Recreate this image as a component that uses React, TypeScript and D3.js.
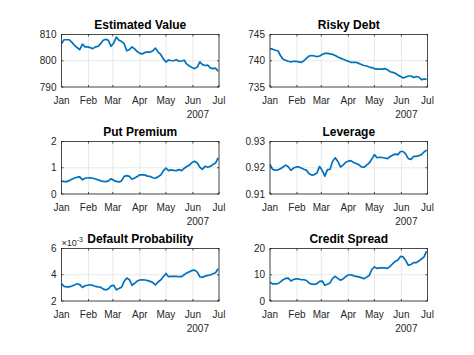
import React from "react";
import * as d3 from "d3";

// day offsets from 2007-01-01 for each sample
const dayOffsets = [0, 3, 6, 9, 12, 15, 18, 21, 24, 27, 30, 33, 36, 39, 42, 45, 48, 51, 54, 57, 60, 63, 66, 69, 72, 75, 78, 81, 84, 87, 90, 93, 96, 99, 102, 105, 108, 111, 114, 117, 120, 123, 126, 129, 132, 135, 138, 141, 144, 147, 150, 153, 156, 159, 162, 165, 168, 171, 174, 177, 180];

const estimatedValue = [806.6, 808, 808, 808, 807, 805.8, 805, 804.2, 806.3, 805.3, 805.3, 805, 804.6, 805.3, 805.5, 806.5, 807.8, 808.2, 807.7, 805.5, 806.8, 809, 807.8, 807.3, 806.5, 803.8, 804.2, 805.3, 804.5, 803.5, 802.8, 802.6, 803.2, 803.3, 803.3, 803.8, 804.8, 803.3, 802.4, 800.7, 799.5, 800.3, 800.1, 800, 800.4, 799.8, 799.9, 800.2, 798.7, 798, 797.4, 797, 797.6, 799.6, 798.5, 798.2, 798.3, 797.3, 797, 797.2, 796];

const riskyDebt = [742.3, 742.2, 742, 741.9, 741, 740.3, 740.1, 739.9, 739.8, 739.9, 739.9, 739.8, 739.7, 740, 740.5, 740.9, 741, 740.9, 740.8, 740.9, 741.2, 741.4, 741.4, 741.3, 741.2, 741, 740.7, 740.5, 740.3, 740.1, 739.9, 739.7, 739.7, 739.7, 739.5, 739.3, 739.1, 739, 738.8, 738.7, 738.5, 738.4, 738.4, 738.4, 738.5, 738.3, 737.9, 737.8, 737.6, 737.3, 737, 736.7, 736.9, 737.1, 737.1, 736.8, 737, 736.9, 736.4, 736.5, 736.5];

const putPremium = [0.5, 0.47, 0.47, 0.51, 0.56, 0.61, 0.64, 0.65, 0.54, 0.6, 0.61, 0.62, 0.6, 0.57, 0.54, 0.5, 0.48, 0.47, 0.5, 0.58, 0.52, 0.48, 0.46, 0.5, 0.67, 0.7, 0.67, 0.56, 0.61, 0.67, 0.73, 0.73, 0.72, 0.68, 0.67, 0.62, 0.6, 0.66, 0.72, 0.88, 0.99, 0.89, 0.92, 0.9, 0.89, 0.93, 0.89, 0.98, 1.05, 1.1, 1.2, 1.25, 1.18, 1.02, 0.94, 1.06, 1.02, 1.05, 1.12, 1.18, 1.38];

const leverage = [0.9213, 0.9194, 0.9191, 0.9192, 0.9196, 0.9203, 0.921, 0.9204, 0.919, 0.9199, 0.9203, 0.9203, 0.9199, 0.9194, 0.919, 0.9177, 0.9172, 0.9174, 0.918, 0.9205, 0.919, 0.9168, 0.9193, 0.9194, 0.9225, 0.9238, 0.9224, 0.9203, 0.921, 0.9221, 0.9225, 0.9227, 0.922, 0.9216, 0.9212, 0.9203, 0.9202, 0.921, 0.9218, 0.9233, 0.925, 0.9238, 0.924, 0.9239, 0.9237, 0.9235, 0.9243, 0.9248, 0.9252, 0.925, 0.9262, 0.9262, 0.9252, 0.9235, 0.9232, 0.9243, 0.9243, 0.9246, 0.925, 0.926, 0.9267];

const defaultProbability = [3.3, 3.12, 3.08, 3.08, 3.14, 3.22, 3.31, 3.25, 3.03, 3.16, 3.2, 3.24, 3.18, 3.12, 3.08, 3.05, 2.9, 2.85, 2.93, 3.15, 3.2, 2.85, 2.95, 3.05, 3.5, 3.75, 3.62, 3.2, 3.35, 3.52, 3.6, 3.62, 3.6, 3.55, 3.5, 3.4, 3.22, 3.45, 3.6, 3.85, 4.1, 3.85, 3.87, 3.88, 3.88, 3.85, 3.86, 4.0, 4.14, 4.22, 4.33, 4.35, 4.2, 3.85, 3.8, 3.9, 3.95, 3.98, 4.08, 4.15, 4.45].map((v) => v / 1000);

const creditSpread = [7.2, 6.5, 6.5, 6.6, 7.3, 8.1, 8.6, 8.7, 7.6, 8.2, 8.4, 8.4, 8.1, 8.1, 7.8, 6.8, 6.4, 6.3, 6.6, 7.5, 7.6, 6.0, 6.4, 6.9, 8.6, 9.4, 8.6, 7.9, 8.4, 9.3, 9.9, 10, 9.6, 9.4, 9.2, 8.9, 8.5, 9.1, 9.7, 12, 13, 12.4, 12.6, 12.6, 12.6, 12.4, 13.2, 14.2, 15.1, 15.6, 17, 16.8, 15.4, 13.6, 13.9, 14.6, 14.6, 15.2, 16, 16.8, 19];

const monthLabels = ["Jan", "Feb", "Mar", "Apr", "May", "Jun", "Jul"];
const yearLabel = "2007";

const titles = ["Estimated Value", "Risky Debt", "Put Premium", "Leverage", "Default Probability", "Credit Spread"];
const yDomains: [number, number][] = [[790, 810], [735, 745], [0, 2], [0.91, 0.93], [0.002, 0.006], [0, 20]];
const yTicks: number[][] = [[790, 800, 810], [735, 740, 745], [0, 1, 2], [0.91, 0.92, 0.93], [0.002, 0.004, 0.006], [0, 10, 20]];
const seriesList = [estimatedValue, riskyDebt, putPremium, leverage, defaultProbability, creditSpread];

const W = 474;
const H = 355;
const colX: [number, number][] = [[61.5, 219], [270, 427.5]];
const rowTop = [34.5, 141.5, 248.5];
const plotH = 52.5;
const fontFamily = "Liberation Sans, Arial, Helvetica, sans-serif";
const axisColor = "#262626";

const start = new Date(Date.UTC(2007, 0, 1));
const end = new Date(Date.UTC(2007, 6, 1));
const dates = dayOffsets.map((d) => d3.utcDay.offset(start, d));

function formatY(i: number, v: number): string {
  if (i === 3) return d3.format(".2f")(v);
  if (i === 4) return String(Math.round(v * 1000));
  return String(v);
}

function Panel({ i }: { i: number }) {
  const col = i % 2;
  const row = Math.floor(i / 2);
  const [x0, x1] = colX[col];
  const y0 = rowTop[row];
  const y1 = y0 + plotH;
  const x = d3.scaleUtc().domain([start, end]).range([x0, x1]);
  const y = d3.scaleLinear().domain(yDomains[i]).range([y1, y0]);
  const months = d3.utcMonth.range(start, d3.utcDay.offset(end, 1));
  const values = seriesList[i];
  const line = d3
    .line<number>()
    .x((_, k) => x(dates[k]))
    .y((v) => y(v))
    .curve(d3.curveLinear);
  return (
    <g>
      {/* grid */}
      {months.map((m, k) => (
        <line key={"gx" + k} x1={x(m)} x2={x(m)} y1={y0} y2={y1} stroke="#dfdfdf" strokeWidth={0.7} />
      ))}
      {yTicks[i].map((t, k) => (
        <line key={"gy" + k} x1={x0} x2={x1} y1={y(t)} y2={y(t)} stroke="#dfdfdf" strokeWidth={0.7} />
      ))}
      {/* data */}
      <path d={line(values) || ""} fill="none" stroke="#0072BD" strokeWidth={1.7} strokeLinejoin="round" />
      {/* box */}
      <rect x={x0} y={y0} width={x1 - x0} height={plotH} fill="none" stroke={axisColor} strokeWidth={0.8} />
      {/* ticks */}
      {months.map((m, k) => (
        <g key={"tx" + k}>
          <line x1={x(m)} x2={x(m)} y1={y1} y2={y1 - 2} stroke={axisColor} strokeWidth={0.8} />
          <line x1={x(m)} x2={x(m)} y1={y0} y2={y0 + 2} stroke={axisColor} strokeWidth={0.8} />
          <text x={x(m)} y={y1 + 16.5} textAnchor="middle" fontSize={10} fill={axisColor} fontFamily={fontFamily}>
            {monthLabels[k]}
          </text>
        </g>
      ))}
      <text x={x1 - 10} y={y1 + 30.5} textAnchor="end" fontSize={10} fill={axisColor} fontFamily={fontFamily}>
        {yearLabel}
      </text>
      {yTicks[i].map((t, k) => (
        <g key={"ty" + k}>
          <line x1={x0} x2={x0 + 2} y1={y(t)} y2={y(t)} stroke={axisColor} strokeWidth={0.8} />
          <line x1={x1} x2={x1 - 2} y1={y(t)} y2={y(t)} stroke={axisColor} strokeWidth={0.8} />
          <text x={x0 - 5} y={y(t)} dy="0.35em" textAnchor="end" fontSize={10} fill={axisColor} fontFamily={fontFamily}>
            {formatY(i, t)}
          </text>
        </g>
      ))}
      {i === 4 && (
        <text x={x0} y={y0 - 3} fontSize={9} fill={axisColor} fontFamily={fontFamily}>
          ×10
          <tspan fontSize={7} dy={-4}>
            -3
          </tspan>
        </text>
      )}
      <text
        x={(x0 + x1) / 2}
        y={y0 - 6}
        textAnchor="middle"
        fontSize={12}
        fontWeight="bold"
        fill="#000"
        fontFamily={fontFamily}
      >
        {titles[i]}
      </text>
    </g>
  );
}

export default function App() {
  return (
    <svg
      width={W}
      height={H}
      viewBox={`0 0 ${W} ${H}`}
      style={{ position: "absolute", left: 0, top: 0, background: "#fff" }}
    >
      <rect x={0} y={0} width={W} height={H} fill="#fff" />
      {titles.map((_, i) => (
        <Panel key={i} i={i} />
      ))}
    </svg>
  );
}
